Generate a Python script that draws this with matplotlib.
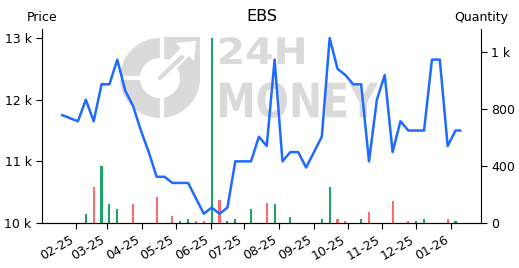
import numpy as np
import pandas as pd
import matplotlib
matplotlib.use('Agg')
import matplotlib.pyplot as plt
from matplotlib.patches import Wedge, Rectangle, Polygon, PathPatch
from matplotlib.textpath import TextPath
from matplotlib.font_manager import FontProperties
from matplotlib.transforms import Affine2D
from matplotlib.ticker import FuncFormatter, FixedLocator
import matplotlib.dates as mdates

# weekly data (week start), last point is the current partial week
dates = pd.to_datetime(
    list(pd.date_range('2025-01-20', '2026-01-05', freq='7D').strftime('%Y-%m-%d')) + ['2026-01-09'])

price = [11750, 11700, 11650, 12000, 11650, 12250, 12250, 12650, 12150, 11900,
         11500, 11150, 10750, 10750, 10650, 10650, 10650, 10400, 10150, 10250,
         10150, 10250, 11000, 11000, 11000, 11400, 11250, 12650, 11000, 11150,
         11150, 10900, 11150, 11400, 13000, 12500, 12400, 12250, 12250, 11000,
         12000, 12400, 11150, 11650, 11500, 11500, 11500, 12650, 12650, 11250,
         11500, 11500]

quantity = [0, 0, 0, 65, 250, 400, 135, 100, 0, 135,
            0, 0, 180, 0, 50, 15, 30, 15, 15, 1300,
            165, 15, 30, 0, 95, 0, 140, 135, 0, 45,
            0, 0, 0, 30, 255, 30, 15, 0, 25, 75,
            0, 0, 155, 0, 15, 15, 30, 0, 0, 25,
            15, 0]

up_color = '#17a665'
down_color = '#ff6b6b'
line_color = '#1f6bff'
mark_color = '#dadada'

fig = plt.figure(figsize=(5.19, 2.68), dpi=100)

# watermark in pixel coordinates
bg = fig.add_axes([0, 0, 1, 1], zorder=-5)
bg.set_xlim(0, 519)
bg.set_ylim(268, 0)
bg.axis('off')
cx, cy = 160, 78
bg.add_patch(Wedge((cx, cy), 40, 0, 360, width=20, color=mark_color, lw=0))
bg.add_patch(Rectangle((163, 37), 37, 39, color=mark_color, lw=0))
bg.add_patch(Wedge((cx, cy), 20, 270, 360, color='white', lw=0))
bg.add_patch(Polygon([(163, 66), (181, 48), (176, 43), (196, 41), (194, 61), (189, 56), (171, 74)],
                     closed=True, color='white', lw=0))
bg.plot([118, 143], [78, 78], color='white', lw=3)
bg.plot([161.5, 161.5], [35, 58], color='white', lw=3)
bg.plot([161.5, 161.5], [98, 121], color='white', lw=3)
bg.plot([cx, 182], [cy, 57], color=mark_color, lw=3, solid_capstyle='round')


def fit_text(s, x0, x1, top, base):
    tp = TextPath((0, 0), s, size=10, prop=FontProperties(family='DejaVu Sans', weight='bold'))
    ext = tp.get_extents()
    sx = (x1 - x0) / ext.width
    sy = (base - top) / ext.height
    tr = Affine2D().translate(-ext.x0, -ext.y0).scale(sx, -sy).translate(x0, base)
    bg.add_patch(PathPatch(tr.transform_path(tp), color=mark_color, lw=0))


fit_text('24H', 220, 304, 37, 64)
fit_text('MONEY', 220, 378, 82, 118)

ax = fig.add_axes([42 / 519, 1 - 223 / 268, 439 / 519, 194 / 268])
ax2 = ax.twinx()

bar_colors = [up_color if i == 0 or price[i] >= price[i - 1] else down_color
              for i in range(len(price))]
ax2.bar(dates, quantity, width=1.9, color=bar_colors, lw=0)

ax.plot(dates, price, color=line_color, lw=1.8)
ax.set_zorder(ax2.get_zorder() + 1)
ax.patch.set_visible(False)

ax.set_xlim(pd.Timestamp('2025-01-02'), pd.Timestamp('2026-01-27 16:00'))
ax.set_ylim(10000, 13147)
ax2.set_ylim(0, 1365)

ax.yaxis.set_major_locator(FixedLocator([10000, 11000, 12000, 13000]))
ax.yaxis.set_major_formatter(FuncFormatter(lambda v, p: f'{v / 1000:.0f} k'))
ax2.yaxis.set_major_locator(FixedLocator([0, 400, 800, 1200]))
ax2.yaxis.set_major_formatter(
    FuncFormatter(lambda v, p: f'{v / 1000:.0f} k' if v >= 1000 else f'{v:.0f}'))

ax.xaxis.set_major_locator(mdates.MonthLocator())
ax.xaxis.set_major_formatter(mdates.DateFormatter('%m-%y'))
for lbl in ax.get_xticklabels():
    lbl.set_rotation(30)
    lbl.set_ha('right')

for a in (ax, ax2):
    a.spines['top'].set_visible(False)
    a.tick_params(labelsize=9, length=4)
ax2.spines['left'].set_visible(False)
ax.spines['right'].set_visible(False)

ax.set_title('EBS', fontsize=11.5, pad=6)
fig.text(27 / 519, 1 - 21 / 268, 'Price', fontsize=9, ha='left', va='baseline')
fig.text(454 / 519, 1 - 21 / 268, 'Quantity', fontsize=9, ha='left', va='baseline')

fig.savefig('out.png', dpi=100)
